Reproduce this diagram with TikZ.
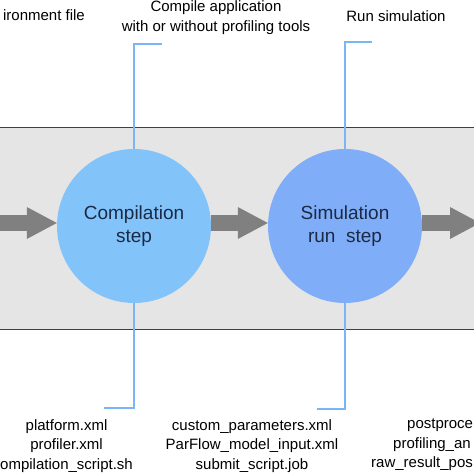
\documentclass[tikz,border=0pt]{standalone}
\usepackage{fontspec}
\setmainfont{Liberation Sans}
\usetikzlibrary{arrows.meta}
\definecolor{bandgray}{HTML}{E5E5E5}
\definecolor{compblue}{HTML}{82C3FA}
\definecolor{simblue}{HTML}{80ADF7}
\definecolor{leadblue}{HTML}{7AB6F2}
\definecolor{stepink}{HTML}{1A2A45}
\begin{document}
\begin{tikzpicture}[
        x=1pt, y=-1pt,
        stage/.style={circle, inner sep=0pt, minimum size=154pt, align=center, font=\fontsize{19}{23}\selectfont, text=stepink},
        flow/.style={-{Triangle[length=30pt,width=32pt,line width=0pt]}, line width=16pt, draw=gray},
        lead/.style={draw=leadblue, line width=2pt},
        label/.style={align=center, font=\fontsize{15}{19.5}\selectfont, inner sep=0pt}
    ]
    \useasboundingbox (0,0) rectangle (474,474);

        % Banda
        \fill[bandgray] (-2,127) rectangle (476,329);
        \draw[black!75, line width=0.8pt] (-2,127) -- (476,127);
        \draw[black!75, line width=0.8pt] (-2,329) -- (476,329);

        % Pasos
        \node[stage, fill=compblue] (comp) at (134,226) {Compilation\\step};
        \node[stage, fill=simblue] (sim) at (345,226) {Simulation\\run\ \ step};

        % Flechas
        \coordinate (in) at (-2,223);
        \coordinate (out) at (480,223);
        \draw[flow] (in) -- (comp.west |- in);
        \draw[flow] (comp.east |- in) -- (sim.west |- in);
        \draw[flow] (sim.east |- in) -- (out);

        % Corchetes
        \coordinate (comptop) at (162,44);
        \coordinate (compbot) at (104,408);
        \coordinate (simtop) at (372,42);
        \coordinate (simbot) at (317,409);
        \draw[lead] (comp.north) |- (comptop);
        \draw[lead] (comp.south) |- (compbot);
        \draw[lead] (sim.north) |- (simtop);
        \draw[lead] (sim.south) |- (simbot);

        % Etiquetas
        \node[label, anchor=east] (envtxt) at (85,15) {ironment file};
        \node[label] (comptxt) at (216,17.5) {Compile application\\with or without profiling tools};
        \node[label] (simtxt) at (396,16) {Run simulation};
        \node[label, anchor=north east] (compfiles) at (133,419) {platform.xml\hspace{25pt}\\profiler.xml\hspace{25pt}\\ompilation\_script.sh};
        \node[label, anchor=north] (simfiles) at (252,419) {custom\_parameters.xml\\ParFlow\_model\_input.xml\\submit\_script.job};
        \node[label, anchor=north west, align=left] (postfiles) at (371,419) {\hspace{36pt}postproce\\\hspace{22pt}profiling\_an\\raw\_result\_pos};

    \end{tikzpicture}
\end{document}
